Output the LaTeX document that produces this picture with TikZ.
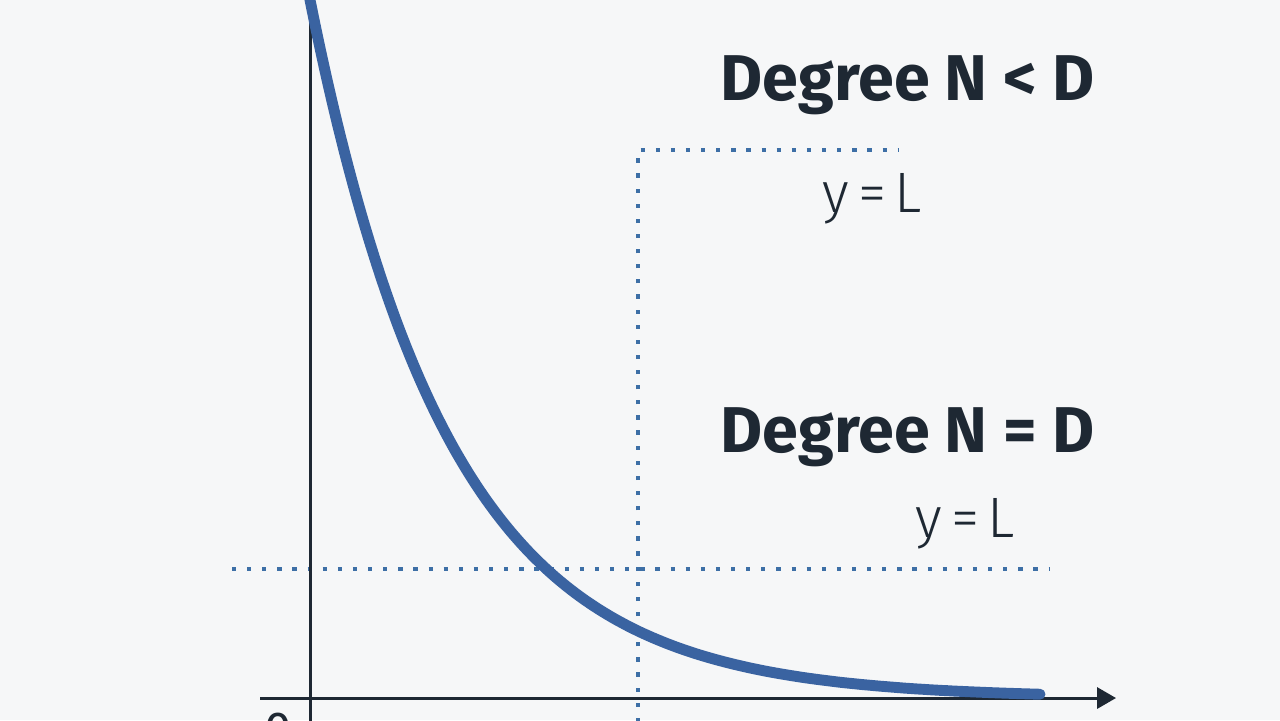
\documentclass[tikz,border=0pt]{standalone}
\usepackage{fontspec}
\setmainfont{Fira Sans}
\newfontfamily\lightfont[WordSpace=0.55]{Fira Sans Light}
\usepackage{tikz}
\usetikzlibrary{arrows.meta,positioning,calc}
\definecolor{bgGray}{HTML}{F6F7F8}
\definecolor{axisDark}{HTML}{1E2833}
\definecolor{curveBlue}{HTML}{3A63A1}
\definecolor{dotBlue}{HTML}{3D6FA6}
\tikzset{
  axisline/.style={line width=0.85pt, draw=axisDark},
  dotline/.style={line width=1.2pt, draw=dotBlue, dash pattern=on 1.2pt off 3.1pt},
  degreelabel/.style={anchor=base west, inner sep=0pt, font=\fontsize{18.4}{21}\bfseries, text=axisDark},
  levellabel/.style={anchor=base west, inner sep=0pt, font=\fontsize{16.2}{19}\lightfont, text=axisDark},
}

\begin{document}
\begin{tikzpicture}[x=0.01cm, y=-0.01cm]
  \useasboundingbox (0,0) rectangle (1280,720);
  \clip (0,0) rectangle (1280,720);
  \fill[bgGray] (0,0) rectangle (1280,720);

  % 点線
  \coordinate (hl) at (232,569);
  \coordinate (hr) at (1050,569);
  \coordinate (vb) at (638,722);
  \coordinate (vt) at (638,150);
  \coordinate (tr) at (898,150);
  \draw[dotline] (hl) -- (hr);
  \draw[dotline] (vb) -- (vt) -- (tr);

  % 軸
  \coordinate (xs) at (260,698);
  \coordinate (xe) at (1116,698);
  \coordinate (ys) at (310,0);
  \coordinate (ye) at (310,722);
  \draw[axisline] (ys) -- (ye);
  \draw[axisline, -{Triangle[length=5.4pt, width=6pt]}] (xs) -- (xe);
  \node[anchor=north, inner sep=0pt, font=\fontsize{14}{16}\selectfont, text=axisDark] (origin) at (278,712) {0};

  % 曲線
  \draw[curveBlue, line width=3.1pt, line cap=round]
    plot[domain=308:1040, samples=120, smooth] (\x, {698 - 698*exp(-(\x-310)/140)});

  % ラベル
  \node[degreelabel] (less) at (720,100) {Degree N < D};
  \node[levellabel] (lessL) at (822,212) {y = L};
  \node[degreelabel] (equal) at (720,452) {Degree N = D};
  \node[levellabel] (equalL) at (915,537) {y = L};
\end{tikzpicture}
\end{document}
